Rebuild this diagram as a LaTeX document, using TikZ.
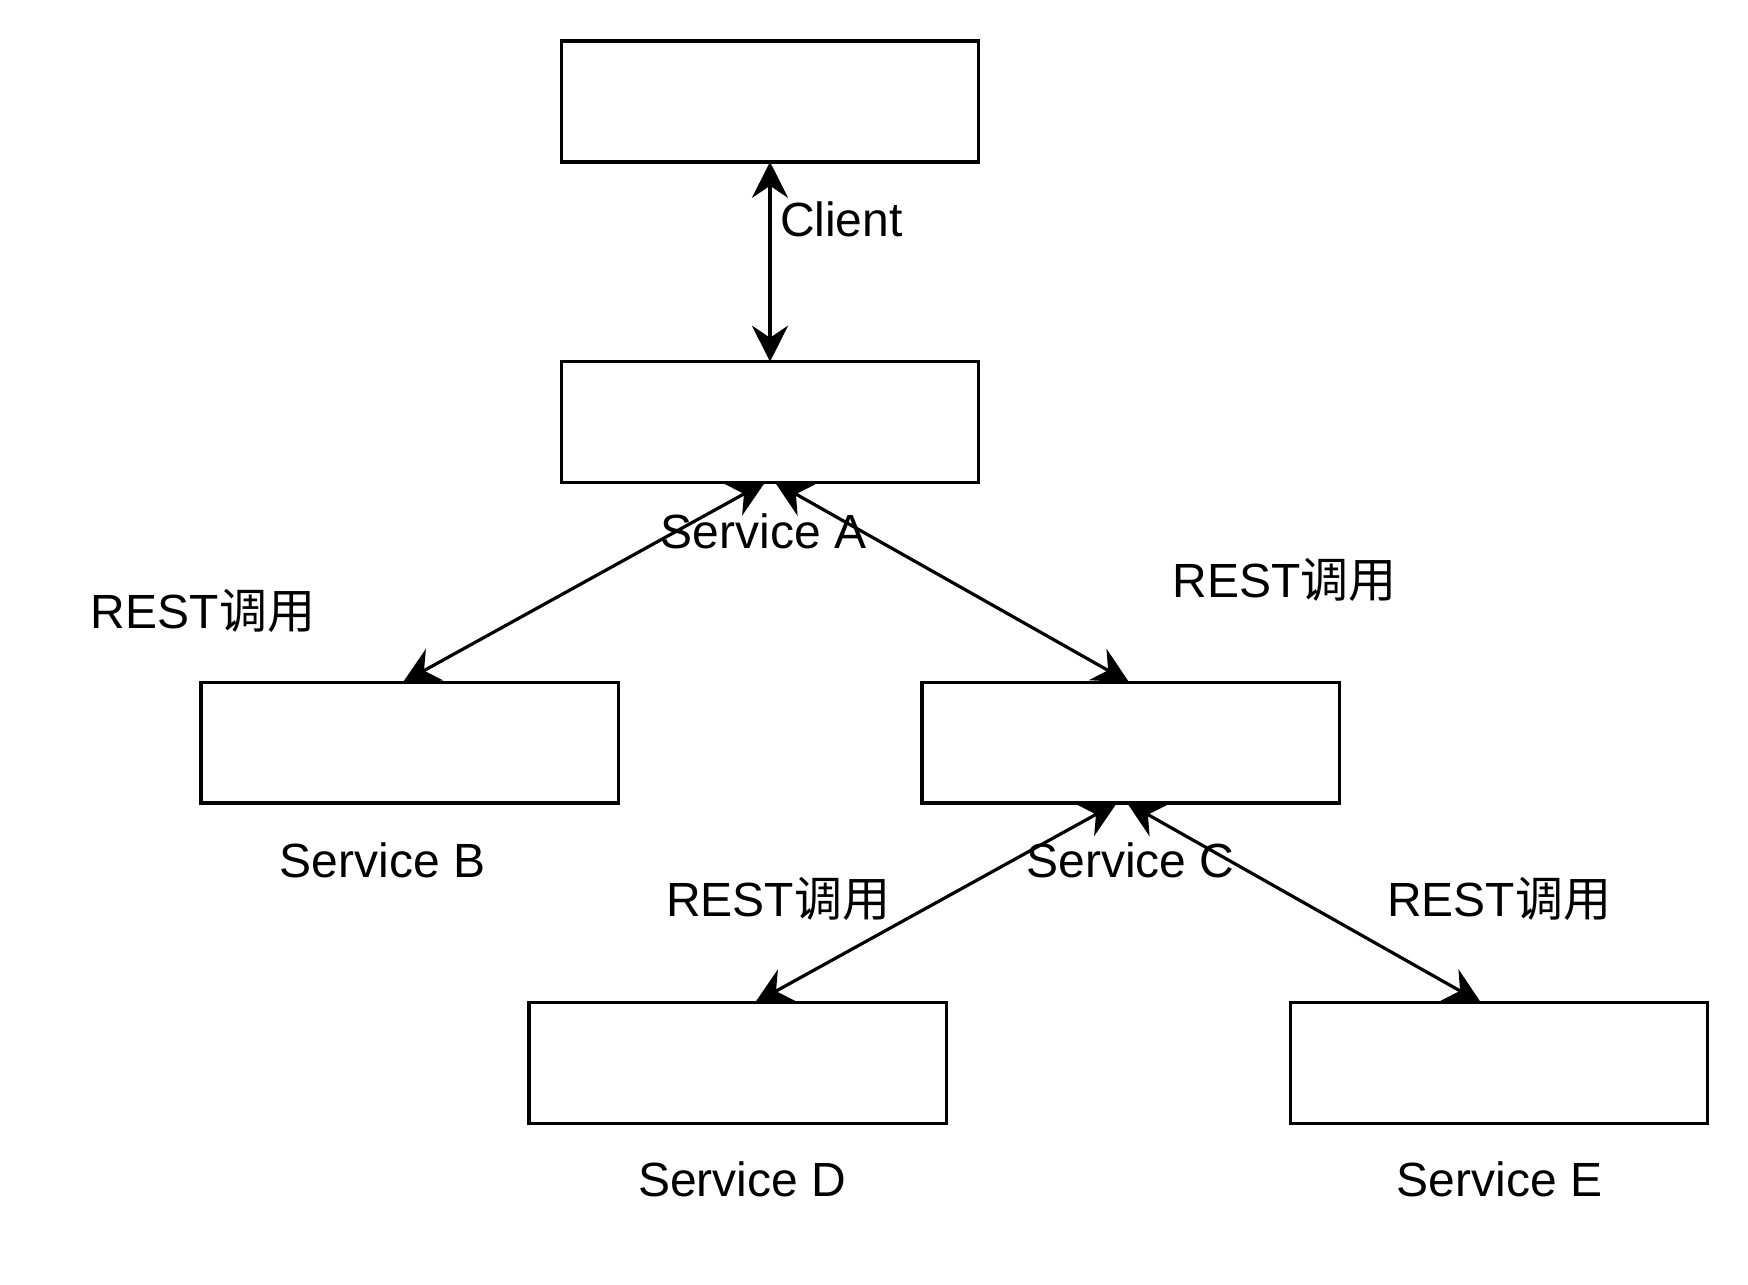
\documentclass[tikz,border=0pt]{standalone}
\usepackage{fontspec}
\setmainfont{Liberation Sans}
\newfontfamily\cjk{Noto Sans CJK SC}
\usetikzlibrary{arrows.meta,calc}
\tikzset{
  box/.style={draw=black, line width=1.7pt, fill=white, minimum width=208.75pt, minimum height=60.3pt, inner sep=0pt, outer sep=0pt},
  lbl/.style={inner sep=0pt, outer sep=0pt, font=\fontsize{24pt}{28pt}\selectfont},
  arr/.style={line width=1.6pt, {Stealth[length=18pt,width=18pt,inset=6pt]}-{Stealth[length=18pt,width=18pt,inset=6pt]}}
}
\begin{document}
\begin{tikzpicture}[x=0.5pt,y=-0.5pt]
\useasboundingbox (0,0) rectangle (1748,1284);
\fill[white] (0,0) rectangle (1748,1284);
% boxes
\node[box] (T) at (770,101.5) {};
\node[box] (A) at (770,422) {};
\node[box] (B) at (409.6,742.5) {};
\node[box] (C) at (1130.7,742.5) {};
\node[box] (D) at (737.8,1063) {};
\node[box] (E) at (1499,1063) {};
% connectors
\draw[arr] (T.south) -- (A.north);
\draw[arr] ($(A.south)+(-5,0)$) -- ($(B.north)+(-6.6,0)$);
\draw[arr] ($(A.south)+(5,0)$) -- ($(C.north)+(-1.7,0)$);
\draw[arr] ($(C.south)+(-13.7,0)$) -- ($(D.north)+(17.2,0)$);
\draw[arr] ($(C.south)+(-3.7,0)$) -- ($(E.north)+(-18,0)$);
% labels
\node[lbl, anchor=base west] (lclient) at (780,236.5) {Client};
\node[lbl, anchor=base] (lA) at (763.5,548) {Service A};
\node[lbl, anchor=base] (lr1) at (203,628) {REST{\cjk 调用}};
\node[lbl, anchor=base] (lr2) at (1284.5,597.5) {REST{\cjk 调用}};
\node[lbl, anchor=base] (lB) at (382.5,877) {Service B};
\node[lbl, anchor=base] (lC) at (1130.5,877) {Service C};
\node[lbl, anchor=base] (lr3) at (778,916.5) {REST{\cjk 调用}};
\node[lbl, anchor=base] (lr4) at (1499,916.5) {REST{\cjk 调用}};
\node[lbl, anchor=base] (lD) at (742.3,1196.5) {Service D};
\node[lbl, anchor=base] (lE) at (1499.5,1196.5) {Service E};
\end{tikzpicture}
\end{document}
